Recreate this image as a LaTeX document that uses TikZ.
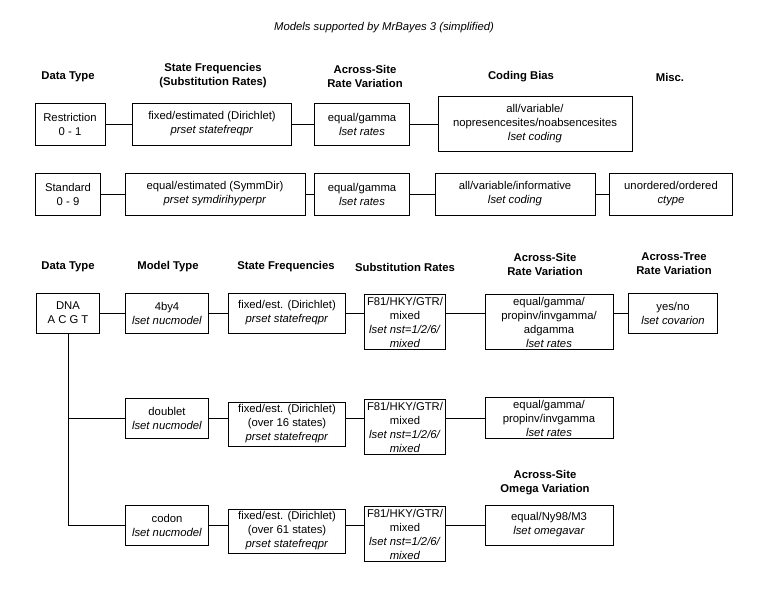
\documentclass[tikz,border=0pt]{standalone}
\usepackage{fontspec}
\setmainfont{Liberation Sans}
\usetikzlibrary{positioning}
\begin{document}
\begin{tikzpicture}[x=1pt,y=-1pt,
    every node/.style={font=\fontsize{11.3}{14}\selectfont},
    box/.style={draw, align=center, inner sep=2.5pt},
    head/.style={font=\fontsize{11.3}{14}\selectfont\bfseries, align=center},
    link/.style={draw}]
\useasboundingbox (0,0) rectangle (768,594);
\node[font=\fontsize{11.3}{14}\selectfont\itshape] (title) at (384,28) {Models supported by MrBayes 3 (simplified)};
% upper headers
\node[head] (h1) at (68,77) {Data Type};
\node[head] (h2) at (213,76) {State Frequencies\\(Substitution Rates)};
\node[head] (h3) at (365,76) {Across-Site\\Rate Variation};
\node[head] (h4) at (521,77) {Coding Bias};
\node[head] (h5) at (670,77) {Misc.};
% restriction row
\node[box, minimum height=42, minimum width=70] (restr) at (70,124) {Restriction\\0 - 1};
\node[box, minimum height=42, minimum width=159] (rfreq) at (212,124) {fixed/estimated (Dirichlet)\\\textit{prset statefreqpr}};
\node[box, minimum height=42, minimum width=95] (rrate) at (362,124) {equal/gamma\\\textit{lset rates}};
\node[box, minimum height=55, minimum width=194] (rcode) at (535,124) {all/variable/\\nopresencesites/noabsencesites\\\textit{lset coding}};
\draw[link] (restr) -- (rfreq); \draw[link] (rfreq) -- (rrate); \draw[link] (rrate) -- (rcode);
% standard row
\node[box, minimum height=42, minimum width=65] (std) at (68,194) {Standard\\0 - 9};
\node[box, minimum height=42, minimum width=180] (sfreq) at (215,194) {equal/estimated (SymmDir)\\\textit{prset symdirihyperpr}};
\node[box, minimum height=42, minimum width=95] (srate) at (362,194) {equal/gamma\\\textit{lset rates}};
\node[box, minimum height=42, minimum width=160] (scode) at (515,194) {all/variable/informative\\\textit{lset coding}};
\node[box, minimum height=42, minimum width=123] (smisc) at (671,194) {unordered/ordered\\\textit{ctype}};
\draw[link] (std) -- (sfreq); \draw[link] (sfreq) -- (srate); \draw[link] (srate) -- (scode); \draw[link] (scode) -- (smisc);
% lower headers
\node[head] (g1) at (68,267) {Data Type};
\node[head] (g2) at (168,267) {Model Type};
\node[head] (g3) at (286,267) {State Frequencies};
\node[head] (g4) at (405,267) {Substitution Rates};
\node[head] (g5) at (545,264) {Across-Site\\Rate Variation};
\node[head] (g6) at (674,264) {Across-Tree\\Rate Variation};
\node[head] (g7) at (545,483) {Across-Site\\Omega Variation};
% DNA 4by4
\node[box, minimum height=40, minimum width=63] (dna) at (68,313) {DNA\\A C G T};
\node[box, minimum height=40, minimum width=83] (m4) at (167,313) {4by4\\\textit{lset nucmodel}};
\node[box, minimum height=40, minimum width=117] (f4) at (287,313) {fixed/est. (Dirichlet)\\\textit{prset statefreqpr}};
\node[box, minimum width=70] (n4) at (405,322) {F81/HKY/GTR/\\mixed\\\textit{lset nst=1/2/6/}\\\textit{mixed}};
\node[box, minimum width=128] (r4) at (549,322) {equal/gamma/\\propinv/invgamma/\\adgamma\\\textit{lset rates}};
\node[box, minimum height=40, minimum width=89] (t4) at (673,313) {yes/no\\\textit{lset covarion}};
\draw[link] (dna) -- (m4); \draw[link] (m4) -- (f4); \draw[link] (f4) -- (n4.west |- f4);
\draw[link] (n4.east |- f4) -- (r4.west |- f4); \draw[link] (r4.east |- t4) -- (t4);
% doublet
\node[box, minimum height=40, minimum width=83] (md) at (167,418) {doublet\\\textit{lset nucmodel}};
\node[box, minimum width=117] (fd) at (287,424) {fixed/est. (Dirichlet)\\(over 16 states)\\\textit{prset statefreqpr}};
\node[box, minimum width=70] (nd) at (405,427) {F81/HKY/GTR/\\mixed\\\textit{lset nst=1/2/6/}\\\textit{mixed}};
\node[box, minimum height=40, minimum width=128] (rd) at (549,418) {equal/gamma/\\propinv/invgamma\\\textit{lset rates}};
\draw[link] (dna.south) |- (md); \draw[link] (md) -- (md -| fd.west);
\draw[link] (fd.east |- md) -- (nd.west |- md); \draw[link] (nd.east |- md) -- (rd);
% codon
\node[box, minimum height=40, minimum width=83] (mc) at (167,525) {codon\\\textit{lset nucmodel}};
\node[box, minimum width=117] (fc) at (287,531) {fixed/est. (Dirichlet)\\(over 61 states)\\\textit{prset statefreqpr}};
\node[box, minimum width=70] (nc) at (405,534) {F81/HKY/GTR/\\mixed\\\textit{lset nst=1/2/6/}\\\textit{mixed}};
\node[box, minimum height=40, minimum width=128] (rc) at (549,525) {equal/Ny98/M3\\\textit{lset omegavar}};
\draw[link] (dna.south) |- (mc); \draw[link] (mc) -- (mc -| fc.west);
\draw[link] (fc.east |- mc) -- (nc.west |- mc); \draw[link] (nc.east |- mc) -- (rc);
\end{tikzpicture}
\end{document}
